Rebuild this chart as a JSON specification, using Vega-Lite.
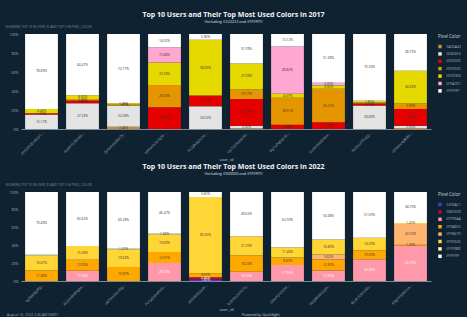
{
  "$schema": "https://vega.github.io/schema/vega-lite/v6.json",
  "background": "#0f2232",
  "padding": {"left": 5, "top": 11, "right": 5, "bottom": 0},
  "spacing": 1,
  "resolve": {"scale": {"color": "independent", "x": "independent", "y": "independent"}, "legend": {"color": "independent"}},
  "datasets": {
    "d2017": [
      {"user": "omGzH2Ds8kQ1…", "color": "#E4E4E4", "pct": 0.1517},
      {"user": "omGzH2Ds8kQ1…", "color": "#E50000", "pct": 0.015},
      {"user": "omGzH2Ds8kQ1…", "color": "#E5D900", "pct": 0.0444},
      {"user": "omGzH2Ds8kQ1…", "color": "#FFFFFF", "pct": 0.7889},
      {"user": "tLq9cVb2Wx0e…", "color": "#E4E4E4", "pct": 0.2723},
      {"user": "tLq9cVb2Wx0e…", "color": "#E50000", "pct": 0.029},
      {"user": "tLq9cVb2Wx0e…", "color": "#E59500", "pct": 0.014},
      {"user": "tLq9cVb2Wx0e…", "color": "#E5D900", "pct": 0.04},
      {"user": "tLq9cVb2Wx0e…", "color": "#FFFFFF", "pct": 0.6447},
      {"user": "Zp4sKd0aRm7y…", "color": "#A06A42", "pct": 0.0246},
      {"user": "Zp4sKd0aRm7y…", "color": "#E4E4E4", "pct": 0.2208},
      {"user": "Zp4sKd0aRm7y…", "color": "#E59500", "pct": 0.0121},
      {"user": "Zp4sKd0aRm7y…", "color": "#E5D900", "pct": 0.0148},
      {"user": "Zp4sKd0aRm7y…", "color": "#FFFFFF", "pct": 0.7277},
      {"user": "b8NwYe3uTq5h…", "color": "#E50000", "pct": 0.2289},
      {"user": "b8NwYe3uTq5h…", "color": "#E59500", "pct": 0.2343},
      {"user": "b8NwYe3uTq5h…", "color": "#E5D900", "pct": 0.2378},
      {"user": "b8NwYe3uTq5h…", "color": "#FFA7D1", "pct": 0.1588},
      {"user": "b8NwYe3uTq5h…", "color": "#FFFFFF", "pct": 0.1402},
      {"user": "Hc2jRv6pLs1o…", "color": "#E4E4E4", "pct": 0.2402},
      {"user": "Hc2jRv6pLs1o…", "color": "#E50000", "pct": 0.1113},
      {"user": "Hc2jRv6pLs1o…", "color": "#E5D900", "pct": 0.5889},
      {"user": "Hc2jRv6pLs1o…", "color": "#FFFFFF", "pct": 0.0596},
      {"user": "Ue7kGf4zNb9d…", "color": "#A06A42", "pct": 0.008},
      {"user": "Ue7kGf4zNb9d…", "color": "#E4E4E4", "pct": 0.023},
      {"user": "Ue7kGf4zNb9d…", "color": "#E50000", "pct": 0.2855},
      {"user": "Ue7kGf4zNb9d…", "color": "#E59500", "pct": 0.1017},
      {"user": "Ue7kGf4zNb9d…", "color": "#E5D900", "pct": 0.2709},
      {"user": "Ue7kGf4zNb9d…", "color": "#FFFFFF", "pct": 0.3109},
      {"user": "Wy1aPq8xJc3v…", "color": "#E50000", "pct": 0.0448},
      {"user": "Wy1aPq8xJc3v…", "color": "#E59500", "pct": 0.2851},
      {"user": "Wy1aPq8xJc3v…", "color": "#E5D900", "pct": 0.0407},
      {"user": "Wy1aPq8xJc3v…", "color": "#FFA7D1", "pct": 0.4982},
      {"user": "Wy1aPq8xJc3v…", "color": "#FFFFFF", "pct": 0.1312},
      {"user": "Dk5mSt0rEh6w…", "color": "#E50000", "pct": 0.0708},
      {"user": "Dk5mSt0rEh6w…", "color": "#E59500", "pct": 0.3531},
      {"user": "Dk5mSt0rEh6w…", "color": "#E5D900", "pct": 0.0333},
      {"user": "Dk5mSt0rEh6w…", "color": "#FFA7D1", "pct": 0.03},
      {"user": "Dk5mSt0rEh6w…", "color": "#FFFFFF", "pct": 0.5128},
      {"user": "Nv3bLo7iFa2g…", "color": "#E4E4E4", "pct": 0.2469},
      {"user": "Nv3bLo7iFa2g…", "color": "#E50000", "pct": 0.0218},
      {"user": "Nv3bLo7iFa2g…", "color": "#E59500", "pct": 0.01},
      {"user": "Nv3bLo7iFa2g…", "color": "#E5D900", "pct": 0.018},
      {"user": "Nv3bLo7iFa2g…", "color": "#FFFFFF", "pct": 0.7033},
      {"user": "Qr9eXu4yMi8k…", "color": "#A06A42", "pct": 0.01},
      {"user": "Qr9eXu4yMi8k…", "color": "#E4E4E4", "pct": 0.0254},
      {"user": "Qr9eXu4yMi8k…", "color": "#E50000", "pct": 0.1748},
      {"user": "Qr9eXu4yMi8k…", "color": "#E59500", "pct": 0.059},
      {"user": "Qr9eXu4yMi8k…", "color": "#E5D900", "pct": 0.3433},
      {"user": "Qr9eXu4yMi8k…", "color": "#FFFFFF", "pct": 0.3875}
    ],
    "d2022": [
      {"user": "kgZoJz0JpfXg…", "color": "#FFA800", "pct": 0.1196},
      {"user": "kgZoJz0JpfXg…", "color": "#FFD635", "pct": 0.1667},
      {"user": "kgZoJz0JpfXg…", "color": "#FFF8B8", "pct": 0.0088},
      {"user": "kgZoJz0JpfXg…", "color": "#FFFFFF", "pct": 0.7049},
      {"user": "Xs2LmRt8Pq4w…", "color": "#FF99AA", "pct": 0.1159},
      {"user": "Xs2LmRt8Pq4w…", "color": "#FFA800", "pct": 0.123},
      {"user": "Xs2LmRt8Pq4w…", "color": "#FFD635", "pct": 0.1549},
      {"user": "Xs2LmRt8Pq4w…", "color": "#FFFFFF", "pct": 0.6062},
      {"user": "aB7cNd3eVf9g…", "color": "#FFA800", "pct": 0.1587},
      {"user": "aB7cNd3eVf9g…", "color": "#FFD635", "pct": 0.1963},
      {"user": "aB7cNd3eVf9g…", "color": "#FFF8B8", "pct": 0.0122},
      {"user": "aB7cNd3eVf9g…", "color": "#FFFFFF", "pct": 0.6328},
      {"user": "Pz1yQx6wRv2u…", "color": "#FF99AA", "pct": 0.202},
      {"user": "Pz1yQx6wRv2u…", "color": "#FFA800", "pct": 0.1231},
      {"user": "Pz1yQx6wRv2u…", "color": "#FFD635", "pct": 0.1969},
      {"user": "Pz1yQx6wRv2u…", "color": "#FFF8B8", "pct": 0.0133},
      {"user": "Pz1yQx6wRv2u…", "color": "#FFFFFF", "pct": 0.4647},
      {"user": "Jm5hKt0sLo4i…", "color": "#493AC1", "pct": 0.018},
      {"user": "Jm5hKt0sLo4i…", "color": "#BE0039", "pct": 0.0245},
      {"user": "Jm5hKt0sLo4i…", "color": "#FFA800", "pct": 0.045},
      {"user": "Jm5hKt0sLo4i…", "color": "#FFD635", "pct": 0.8565},
      {"user": "Jm5hKt0sLo4i…", "color": "#FFFFFF", "pct": 0.056},
      {"user": "Ec8rWu3nYb7a…", "color": "#FF99AA", "pct": 0.1045},
      {"user": "Ec8rWu3nYb7a…", "color": "#FFA800", "pct": 0.1823},
      {"user": "Ec8rWu3nYb7a…", "color": "#FFD635", "pct": 0.217},
      {"user": "Ec8rWu3nYb7a…", "color": "#FFFFFF", "pct": 0.4962},
      {"user": "Gt6vHj1kFz5d…", "color": "#FF99AA", "pct": 0.1794},
      {"user": "Gt6vHj1kFz5d…", "color": "#FFA800", "pct": 0.086},
      {"user": "Gt6vHj1kFz5d…", "color": "#FFD635", "pct": 0.1146},
      {"user": "Gt6vHj1kFz5d…", "color": "#FFFFFF", "pct": 0.62},
      {"user": "Yo2pMa9sCq3x…", "color": "#FF99AA", "pct": 0.119},
      {"user": "Yo2pMa9sCq3x…", "color": "#FFA800", "pct": 0.123},
      {"user": "Yo2pMa9sCq3x…", "color": "#FFB470", "pct": 0.0562},
      {"user": "Yo2pMa9sCq3x…", "color": "#FFD635", "pct": 0.168},
      {"user": "Yo2pMa9sCq3x…", "color": "#FFFFFF", "pct": 0.5338},
      {"user": "Rb4nTc8lUd0e…", "color": "#FF99AA", "pct": 0.243},
      {"user": "Rb4nTc8lUd0e…", "color": "#FFA800", "pct": 0.1},
      {"user": "Rb4nTc8lUd0e…", "color": "#FFD635", "pct": 0.142},
      {"user": "Rb4nTc8lUd0e…", "color": "#FFFFFF", "pct": 0.515},
      {"user": "Fi9gVh5jWk1m…", "color": "#FF99AA", "pct": 0.4029},
      {"user": "Fi9gVh5jWk1m…", "color": "#FFA800", "pct": 0.0129},
      {"user": "Fi9gVh5jWk1m…", "color": "#FFB470", "pct": 0.225},
      {"user": "Fi9gVh5jWk1m…", "color": "#FFD635", "pct": 0.0122},
      {"user": "Fi9gVh5jWk1m…", "color": "#FFFFFF", "pct": 0.347}
    ],
    "footer": [
      {"pos": "start", "t": "August 16, 2022 2:46 AM (GMT)"},
      {"pos": "mid", "t": "Powered by QuickSight"}
    ]
  },
  "vconcat": [
    {
      "title": {"text": "Top 10 Users and Their Top Most Used Colors in 2017", "subtitle": "(Including #222222 and #FFFFFF)", "offset": 0},
      "width": 410,
      "height": 95,
      "data": {"name": "d2017"},
      "encoding": {
        "x": {"field": "user", "type": "nominal", "sort": null, "title": "user_id",
              "scale": {"paddingInner": 0.2, "paddingOuter": 0.1},
              "axis": {"labelAngle": -45, "ticks": false, "titlePadding": 2}},
        "y": {"field": "pct", "type": "quantitative", "stack": "normalize",
              "title": "SHOWING TOP 10 IN USER_ID AND TOP 5 IN PIXEL_COLOR",
              "axis": {"format": ".0%", "values": [0, 0.2, 0.4, 0.6, 0.8, 1], "ticks": false, "domain": false,
                       "titleAngle": 0, "titleAlign": "left", "titleBaseline": "bottom", "titleX": -16, "titleY": -6,
                       "titleFontSize": 3.2, "titleColor": "#7f8c97", "labelPadding": 3}},
        "order": {"field": "color", "sort": "ascending"}
      },
      "layer": [
        {"mark": {"type": "bar"},
         "encoding": {"color": {"field": "color", "type": "nominal", "title": "Pixel Color",
           "scale": {"domain": ["#A06A42", "#E4E4E4", "#E50000", "#E59500", "#E5D900", "#FFA7D1", "#FFFFFF"],
                     "range": ["#C98A3E", "#E4E4E4", "#E50000", "#E59500", "#E5D900", "#FFA7D1", "#FFFFFF"]}}}},
        {"mark": {"type": "text", "fontSize": 3.3, "color": "#333333"},
         "encoding": {"detail": {"field": "color"},
           "text": {"condition": {"test": "datum.pct < 0.012", "value": ""}, "field": "pct", "format": ".2%"},
           "y": {"field": "pct", "type": "quantitative", "stack": "normalize", "bandPosition": 0.5}}}
      ]
    },
    {
      "title": {"text": "Top 10 Users and Their Top Most Used Colors in 2022", "subtitle": "(Including #000000 and #FFFFFF)"},
      "width": 410,
      "height": 89,
      "data": {"name": "d2022"},
      "encoding": {
        "x": {"field": "user", "type": "nominal", "sort": null, "title": "user_id",
              "scale": {"paddingInner": 0.2, "paddingOuter": 0.1},
              "axis": {"labelAngle": -45, "ticks": false, "titlePadding": 2}},
        "y": {"field": "pct", "type": "quantitative", "stack": "normalize",
              "title": "SHOWING TOP 10 IN USER_ID AND TOP 5 IN PIXEL_COLOR",
              "axis": {"format": ".0%", "values": [0, 0.2, 0.4, 0.6, 0.8, 1], "ticks": false, "domain": false,
                       "titleAngle": 0, "titleAlign": "left", "titleBaseline": "bottom", "titleX": -16, "titleY": -6,
                       "titleFontSize": 3.2, "titleColor": "#7f8c97", "labelPadding": 3}},
        "order": {"field": "color", "sort": "ascending"}
      },
      "layer": [
        {"mark": {"type": "bar"},
         "encoding": {"color": {"field": "color", "type": "nominal", "title": "Pixel Color",
           "scale": {"domain": ["#493AC1", "#BE0039", "#FF99AA", "#FFA800", "#FFB470", "#FFD635", "#FFF8B8", "#FFFFFF"],
                     "range": ["#493AC1", "#BE0039", "#FF99AA", "#FFA800", "#FFB470", "#FFD635", "#FFF8B8", "#FFFFFF"]}}}},
        {"mark": {"type": "text", "fontSize": 3.3},
         "encoding": {"detail": {"field": "color"},
           "text": {"condition": {"test": "datum.pct < 0.012", "value": ""}, "field": "pct", "format": ".2%"},
           "color": {"condition": {"test": "datum.color === '#FF99AA' || datum.color === '#BE0039' || datum.color === '#493AC1'", "value": "#ffffff"}, "value": "#333333"},
           "y": {"field": "pct", "type": "quantitative", "stack": "normalize", "bandPosition": 0.5}}}
      ]
    },
    {
      "width": 410,
      "height": 4,
      "data": {"name": "footer"},
      "encoding": {
        "x": {"field": "pos", "type": "nominal", "axis": null, "scale": {"type": "point", "domain": ["start", "mid", "end"], "padding": 0}},
        "text": {"field": "t"}
      },
      "layer": [
        {"transform": [{"filter": "datum.pos === 'start'"}], "mark": {"type": "text", "align": "left", "dx": -14, "fontSize": 3.5, "color": "#9aa4ad"}},
        {"transform": [{"filter": "datum.pos === 'mid'"}], "mark": {"type": "text", "align": "left", "dx": 16, "fontSize": 3.5, "color": "#c4cad0"}}
      ]
    }
  ],
  "config": {
    "font": "Open Sans",
    "view": {"stroke": null},
    "title": {"color": "#f2f4f6", "fontSize": 7, "fontWeight": "bold", "subtitleColor": "#dfe3e7", "subtitleFontSize": 3.8,
              "subtitlePadding": 2, "anchor": "middle", "frame": "bounds", "offset": 6},
    "axis": {"labelColor": "#a3acb5", "titleColor": "#b8c0c8", "labelFontSize": 3.6, "titleFontSize": 4.2,
             "titleFontWeight": "normal", "grid": false, "domainColor": "#7d8a96", "labelFont": "Open Sans"},
    "legend": {"titleColor": "#d5dade", "labelColor": "#a8b1ba", "titleFontSize": 4.5, "labelFontSize": 3.6,
               "titleFontWeight": "normal", "symbolType": "square", "symbolSize": 12, "symbolStrokeWidth": 0,
               "rowPadding": 3.4, "offset": 7, "titlePadding": 6}
  }
}
